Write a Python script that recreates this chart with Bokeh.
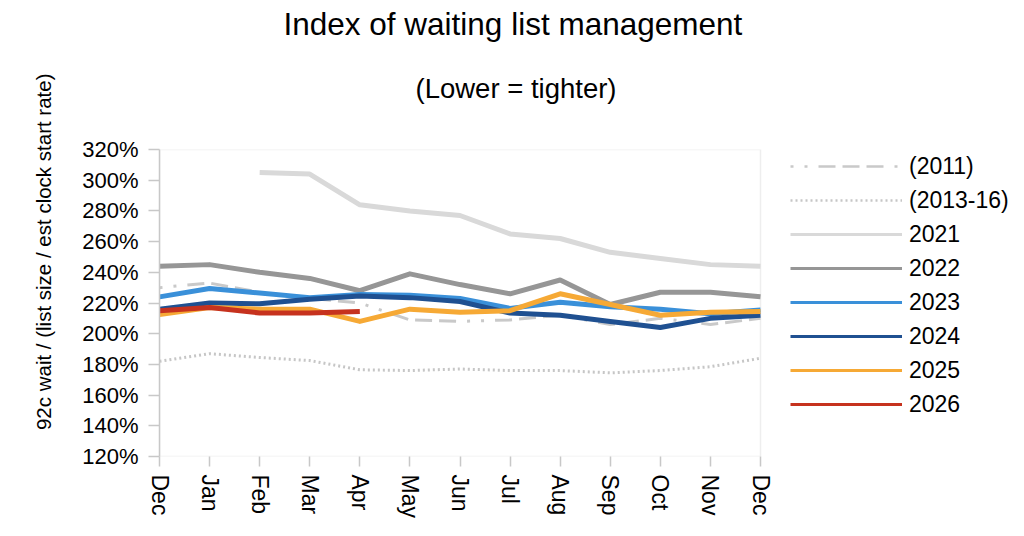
import math
from bokeh.plotting import figure
from bokeh.models import (FixedTicker, Range1d, Legend, LegendItem, Title,
                          PrintfTickFormatter, BoxAnnotation)
from bokeh.embed import file_html
from bokeh.resources import INLINE

# ---------------- data ----------------
months = ["Dec", "Jan", "Feb", "Mar", "Apr", "May", "Jun", "Jul", "Aug",
          "Sep", "Oct", "Nov", "Dec"]
x_pos = list(range(len(months)))

v2011 = [230, 233, 227, 223, 220, 209, 208, 209, 212, 206, 210, 206, 210]
v2013_16 = [182, 187, 184.5, 182.5, 176.5, 176, 177, 176, 176, 174.5, 176, 178.5, 184]
v2021 = [305, 304, 284, 280, 277, 265, 262, 253, 249, 245, 244]          # Feb..Dec
v2022 = [244, 245, 240, 236, 228, 239, 232, 226, 235, 219, 227, 227, 224]
v2023 = [224, 229.5, 226.5, 223.5, 225.5, 225, 223, 216.5, 220.5, 217.5, 216, 213, 215.5]
v2024 = [216, 220, 219.5, 222.5, 224.5, 223.5, 221, 213.5, 212, 208, 204, 210, 212]
v2025 = [212.5, 217, 216, 216, 208, 216, 214, 215, 226, 219, 212, 214, 214.5]
v2026 = [215, 217, 213.5, 213.5, 214.5]                                    # Dec..Apr

y_ticks = [120, 140, 160, 180, 200, 220, 240, 260, 280, 300, 320]

# name, x positions, values, colour, width, dash, dash offset
series = [
    ("(2011)", x_pos, v2011, "#c9c9c9", 3, "17 7 17 7 17 11 3 11 3 11", 76),
    ("(2013-16)", x_pos, v2013_16, "#c6c6c6", 3, "2 3", 0),
    ("2021", x_pos[2:], v2021, "#d9d9d9", 5, "solid", 0),
    ("2022", x_pos, v2022, "#969696", 5, "solid", 0),
    ("2023", x_pos, v2023, "#3a90d9", 5, "solid", 0),
    ("2024", x_pos, v2024, "#1f5091", 5, "solid", 0),
    ("2025", x_pos, v2025, "#f6a935", 5, "solid", 0),
    ("2026", x_pos[:5], v2026, "#c6321e", 5, "solid", 0),
]

FONT = "Liberation Sans"
GRID = "#c8c8c8"

# layout: plot area spans x 159..760 px; the canvas to its right holds the legend
LEFT, RIGHT_EDGE, PLOT_RIGHT = 159, 1020, 760
x_end = 12 + (RIGHT_EDGE - PLOT_RIGHT) * 12 / (PLOT_RIGHT - LEFT)

p = figure(width=1024, height=536, output_backend="svg", toolbar_location=None,
           x_range=Range1d(0, x_end), y_range=Range1d(120, 320),
           min_border_left=LEFT, min_border_right=1024 - RIGHT_EDGE,
           min_border_top=149, min_border_bottom=80)
p.title.visible = False

p.xgrid.visible = False
p.ygrid.visible = False
p.outline_line_color = None
p.background_fill_color = "white"
p.border_fill_color = "white"

# border of the plotting area (0..12 months, 120%..320%)
p.add_layout(BoxAnnotation(left=0, right=12, bottom=120, top=320,
                           fill_alpha=0, line_color=GRID, line_width=1.5,
                           level="underlay"))

# axes
for ax in (p.xaxis[0], p.yaxis[0]):
    ax.axis_line_color = GRID
    ax.axis_line_width = 1.5
    ax.major_tick_line_color = GRID
    ax.major_tick_line_width = 1.5
    ax.major_tick_in = 0
    ax.minor_tick_line_color = None
    ax.major_label_text_font = FONT
    ax.major_label_text_color = "black"

p.xaxis.axis_line_color = None
p.xaxis.ticker = FixedTicker(ticks=x_pos)
p.xaxis.major_label_overrides = {i: m for i, m in zip(x_pos, months)}
p.xaxis.major_label_orientation = -math.pi / 2
p.xaxis.major_label_text_font_size = "23px"
p.xaxis.major_tick_out = 10
p.xaxis.major_label_standoff = 8

p.yaxis.ticker = FixedTicker(ticks=y_ticks)
p.yaxis.formatter = PrintfTickFormatter(format="%d%%")
p.yaxis.major_label_text_font_size = "22px"
p.yaxis.major_tick_out = 11
p.yaxis.major_label_standoff = 10

# lines (legend swatches are thinner single-point copies of each series)
items = []
for name, xs, ys, color, lw, dash, doff in series:
    p.line(xs, ys, line_color=color, line_width=lw, line_dash=dash,
           line_dash_offset=doff, line_join="round")
    swatch = p.line(xs[:1], ys[:1], line_color=color,
                    line_width=3 if lw > 3 else 2.5, line_dash=dash,
                    line_dash_offset=doff)
    items.append(LegendItem(label=name, renderers=[swatch]))

legend = Legend(items=items, location=(631, 38), padding=2, spacing=6,
                margin=0, glyph_width=112, glyph_height=28, label_height=28,
                label_standoff=7, border_line_color=None,
                background_fill_alpha=0,
                label_text_font=FONT, label_text_font_size="23px",
                label_text_color="black")
p.add_layout(legend, "center")

# subtitle (nearest the frame) then title
p.add_layout(Title(text="(Lower = tighter)", text_font=FONT,
                   text_font_size="27.5px", text_font_style="normal",
                   text_color="black", align="left", offset=256,
                   vertical_align="bottom", standoff=92), "above")
p.add_layout(Title(text="Index of waiting list management", text_font=FONT,
                   text_font_size="31.5px", text_font_style="normal",
                   text_color="black", align="left", offset=124,
                   vertical_align="bottom", standoff=-34), "above")

# y axis title
p.add_layout(Title(text="92c wait / (list size / est clock start rate)",
                   text_font=FONT, text_font_size="20.5px",
                   text_font_style="normal", text_color="black",
                   align="right", offset=-76, vertical_align="bottom",
                   standoff=50), "left")

open("out.html", "w").write(file_html(p, INLINE))
